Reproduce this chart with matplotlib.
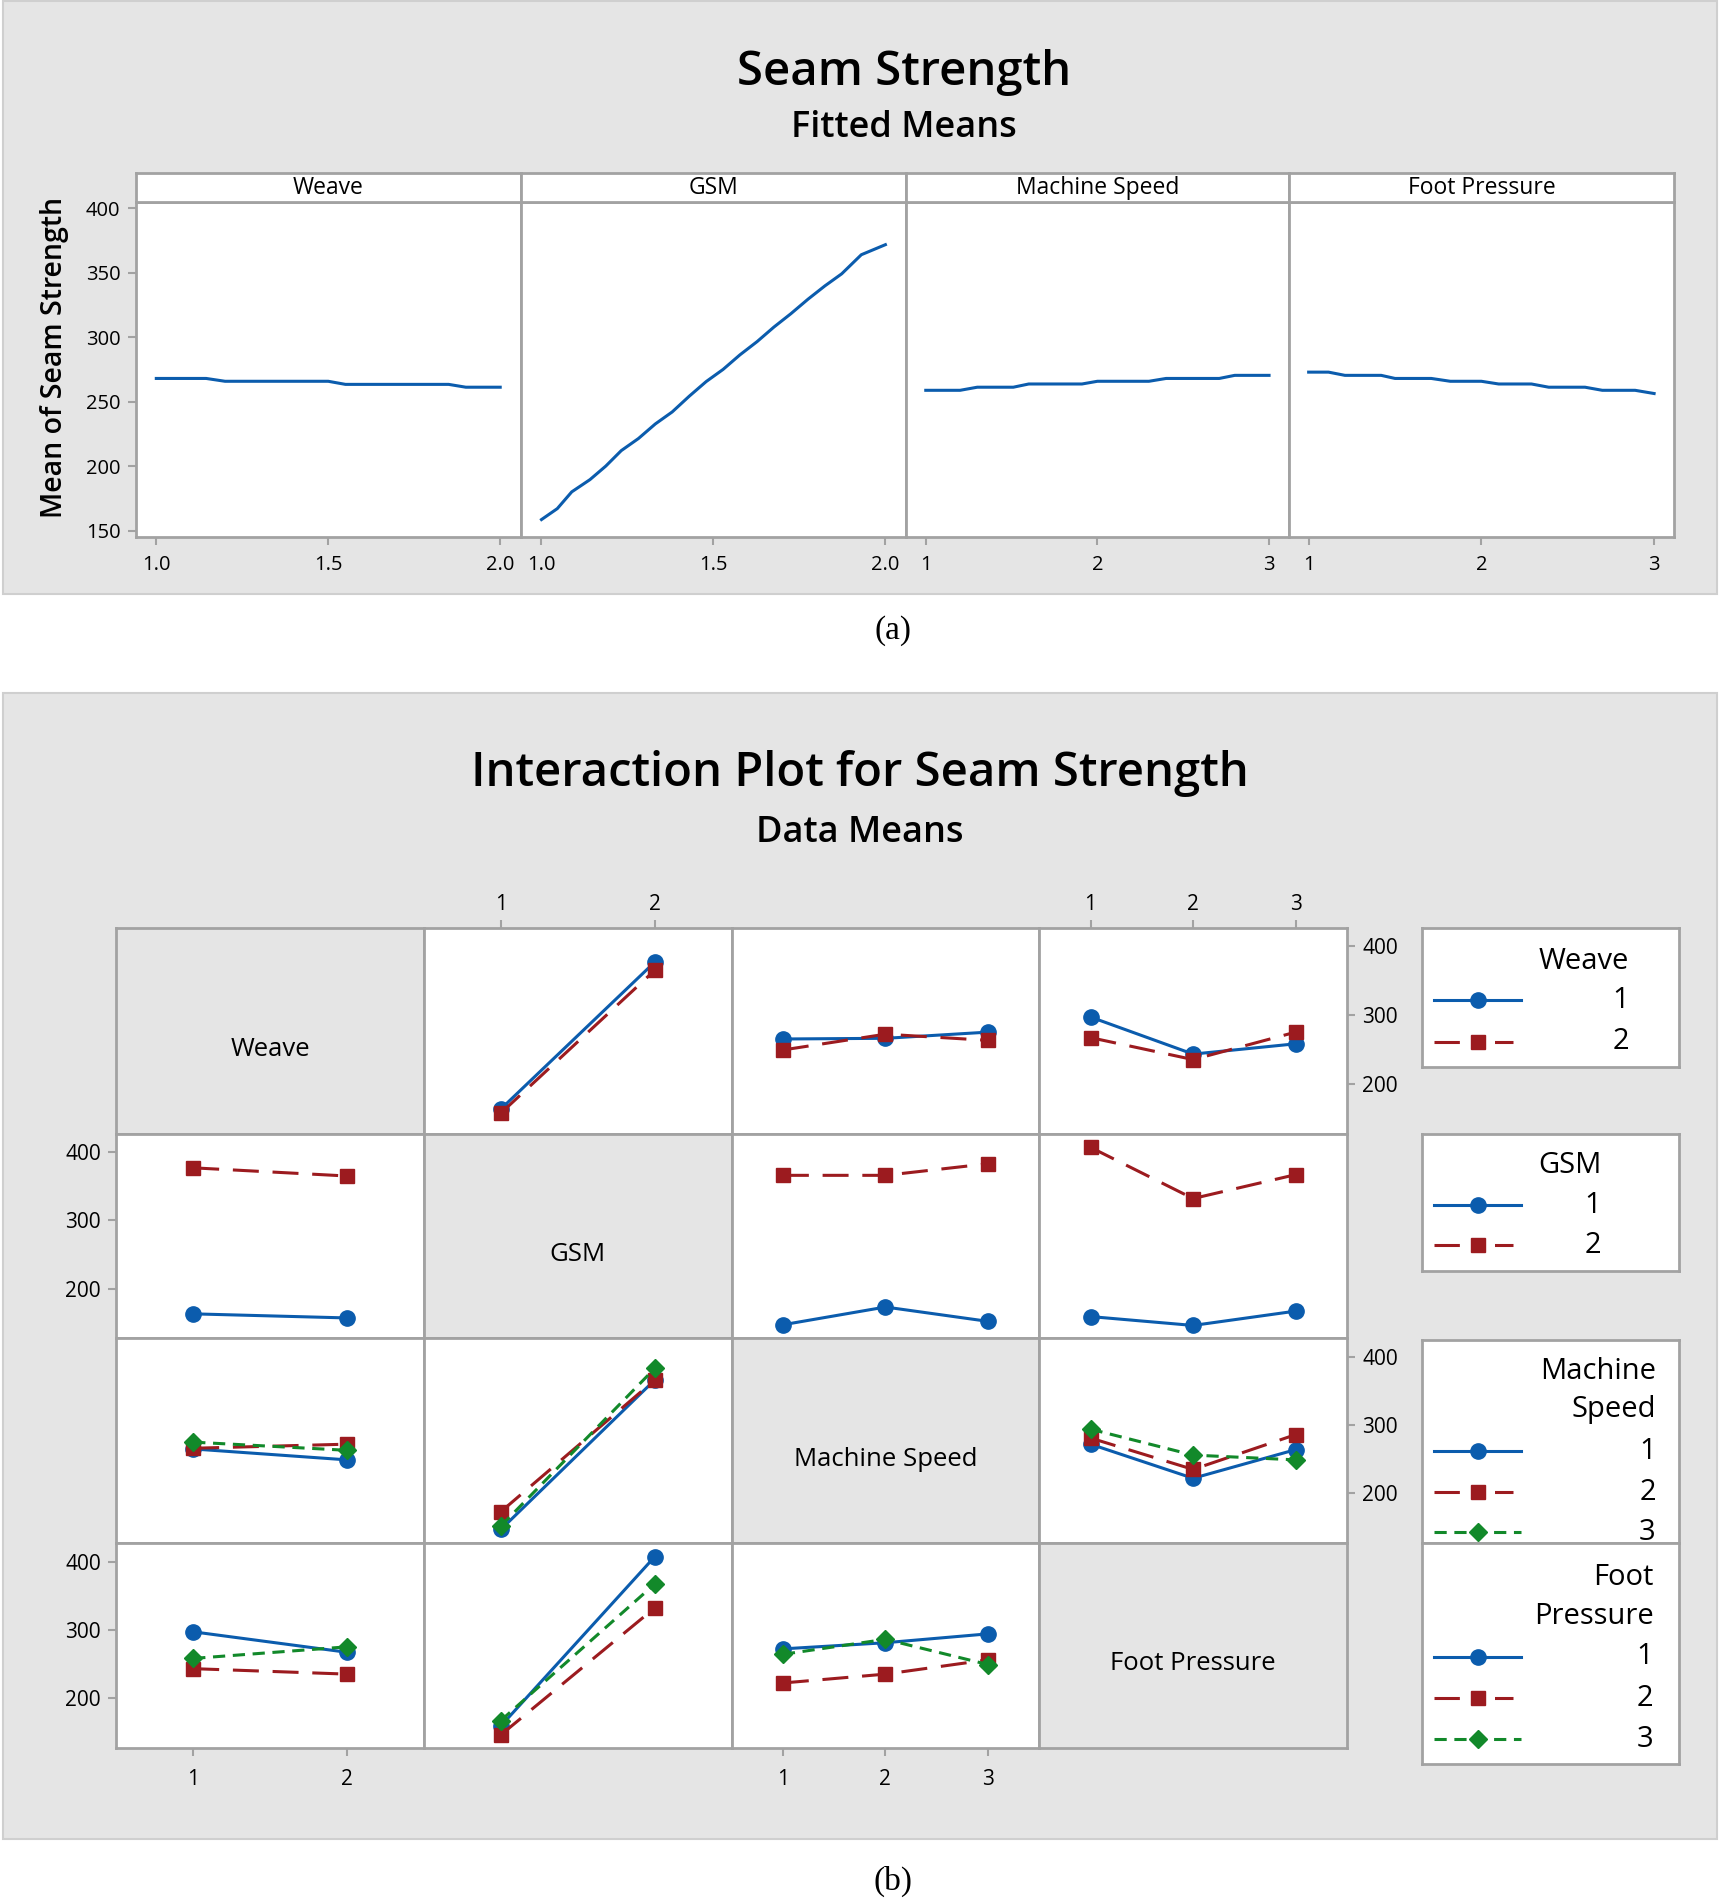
import matplotlib.pyplot as plt
from matplotlib.patches import Rectangle
import numpy as np

plt.rcParams['font.family'] = ['Open Sans', 'DejaVu Sans']

## Fitted means (panel a)
fit_weave_x = [1.0, 1.145, 1.20, 1.50, 1.55, 1.85, 1.90, 2.0]
fit_weave_y = [268.0, 268.0, 265.8, 265.8, 263.4, 263.4, 261.2, 261.2]

fit_gsm_x = [1.0, 1.046, 1.088, 1.141, 1.187, 1.232, 1.282, 1.331, 1.380, 1.430, 1.479,
             1.528, 1.577, 1.627, 1.676, 1.725, 1.775, 1.824, 1.873, 1.930, 2.0]
fit_gsm_y = [158.5, 167, 180, 189.5, 200, 212, 221.4, 232.7, 242, 254.3, 265.6,
             275, 286.3, 296.6, 307.9, 318.2, 329.5, 339.8, 349.2, 364, 371.8]

fit_speed_x = [1.0, 1.2, 1.3, 1.51, 1.6, 1.91, 2.0, 2.3, 2.4, 2.71, 2.8, 3.0]
fit_speed_y = [258.8, 258.8, 261.2, 261.2, 263.7, 263.7, 265.8, 265.8, 268.0, 268.0, 270.4, 270.4]

fit_pressure_x = [1.0, 1.115, 1.21, 1.42, 1.50, 1.71, 1.82, 2.0, 2.10, 2.29, 2.39, 2.60, 2.70, 2.89, 3.0]
fit_pressure_y = [272.9, 272.9, 270.4, 270.4, 268.0, 268.0, 265.8, 265.8, 263.7, 263.7,
                  261.2, 261.2, 258.8, 258.8, 256.3]

## Data means (panel b), rows = first factor level, cols = second factor level
factors = ['Weave', 'GSM', 'Machine Speed', 'Foot Pressure']
weave_levels = [1, 2]
gsm_levels = [1, 2]
speed_levels = [1, 2, 3]
pressure_levels = [1, 2, 3]

weave_gsm = [[163, 377], [157, 365]]
weave_speed = [[265, 266, 275], [249, 272, 263]]
weave_pressure = [[297, 243, 258], [267, 235, 275]]
gsm_speed = [[147, 173, 152], [366, 366, 383]]
gsm_pressure = [[159, 146, 167], [407, 332, 367]]
speed_pressure = [[272, 222, 264], [281, 235, 286], [294, 256, 249]]

levels = [weave_levels, gsm_levels, speed_levels, pressure_levels]
pair_means = {(0, 1): weave_gsm, (0, 2): weave_speed, (0, 3): weave_pressure,
              (1, 2): gsm_speed, (1, 3): gsm_pressure, (2, 3): speed_pressure}

BLUE = '#0b5cad'
RED = '#9c1b1f'
GREEN = '#12892a'
GRID = '#a2a2a2'
PANEL = '#e5e5e5'

styles = [dict(color=BLUE, ls='-', marker='o', ms=11),
          dict(color=RED, ls=(0, (8.5, 4.5)), marker='s', ms=10.5),
          dict(color=GREEN, ls=(0, (4, 2.5)), marker='D', ms=9.5)]
# dash patterns for the legend samples (dash - marker - dash look)
legend_ls = ['-', (0, (8.3, 11.5)), (0, (4, 2.5))]

W, H = 1420.0, 1567.0


def rect(x0, y0, x1, y1):
    return [x0 / W, 1 - y1 / H, (x1 - x0) / W, (y1 - y0) / H]


def gray_spines(ax):
    for s in ax.spines.values():
        s.set_color(GRID)
        s.set_linewidth(2)


def cell_means(trace, xfac):
    if (trace, xfac) in pair_means:
        return np.array(pair_means[(trace, xfac)], dtype=float)
    return np.array(pair_means[(xfac, trace)], dtype=float).T


fig = plt.figure(figsize=(17.2, 18.98), dpi=100)

# backgrounds
fig.patches.append(Rectangle((0.002, 1 - 490 / H), 0.996, 489 / H, transform=fig.transFigure,
                             facecolor=PANEL, edgecolor='#cfcfcf', lw=1.5, zorder=-10))
fig.patches.append(Rectangle((0.002, 1 - 1518 / H), 0.996, 946 / H, transform=fig.transFigure,
                             facecolor=PANEL, edgecolor='#cfcfcf', lw=1.5, zorder=-10))

## Panel (a)
fig.text(746 / W, 1 - 60 / H, 'Seam Strength', ha='center', va='center', fontsize=34, fontweight='semibold')
fig.text(746 / W, 1 - 106 / H, 'Fitted Means', ha='center', va='center', fontsize=26, fontweight='semibold')
fig.text(45 / W, 1 - 295 / H, 'Mean of Seam Strength', ha='center', va='center', rotation=90,
         fontsize=20.5, fontweight='semibold')

fit_x = [fit_weave_x, fit_gsm_x, fit_speed_x, fit_pressure_x]
fit_y = [fit_weave_y, fit_gsm_y, fit_speed_y, fit_pressure_y]
cols = [112, 430, 748, 1064, 1382]
for k in range(4):
    ax = fig.add_axes(rect(cols[k], 167, cols[k + 1], 443))
    ax.plot(fit_x[k], fit_y[k], color=BLUE, lw=2.2)
    ax.set_ylim(145.3, 404.7)
    if k < 2:
        ax.set_xlim(0.94, 2.06)
        ax.set_xticks([1.0, 1.5, 2.0])
        ax.set_xticklabels(['1.0', '1.5', '2.0'])
    else:
        ax.set_xlim(0.885, 3.115)
        ax.set_xticks([1, 2, 3])
    ax.set_yticks([150, 200, 250, 300, 350, 400])
    if k > 0:
        ax.tick_params(axis='y', left=False, labelleft=False)
    ax.tick_params(length=6, width=1.5, color=GRID, labelsize=14.5, pad=5)
    ax.tick_params(axis='x', pad=7)
    gray_spines(ax)

    strip = fig.add_axes(rect(cols[k], 143, cols[k + 1], 167))
    strip.set_xticks([])
    strip.set_yticks([])
    gray_spines(strip)
    strip.text(0.5, 0.5, factors[k], ha='center', va='center', fontsize=16.5, transform=strip.transAxes)

fig.text(737 / W, 1 - 521 / H, '(a)', ha='center', va='center', fontsize=24, family='Liberation Serif')
fig.text(737 / W, 1 - 1553 / H, '(b)', ha='center', va='center', fontsize=24, family='Liberation Serif')

## Panel (b)
fig.text(710 / W, 1 - 639 / H, 'Interaction Plot for Seam Strength', ha='center', va='center',
         fontsize=34, fontweight='semibold')
fig.text(710 / W, 1 - 688 / H, 'Data Means', ha='center', va='center', fontsize=26, fontweight='semibold')

gx = [96, 350, 604, 858, 1112]
gy = [766, 936, 1105, 1274, 1443]
for i in range(4):
    for j in range(4):
        ax = fig.add_axes(rect(gx[j], gy[i], gx[j + 1], gy[i + 1]))
        gray_spines(ax)
        ax.set_ylim(127, 427)
        ax.set_xlim(0.5, len(levels[j]) + 0.5)
        ax.set_xticks(levels[j])
        ax.set_yticks([200, 300, 400])
        ax.tick_params(length=6, width=1.5, color=GRID, labelsize=15, pad=5,
                       bottom=False, labelbottom=False, left=False, labelleft=False)
        if i == j:
            ax.set_facecolor(PANEL)
            ax.text(0.5, 0.41, factors[i], ha='center', va='center', fontsize=18.5, transform=ax.transAxes)
            continue
        means = cell_means(i, j)
        for t in range(len(levels[i])):
            ax.plot(levels[j], means[t], lw=2.2, clip_on=False, **styles[t])
        if i == 0 and j in (1, 3):
            ax.tick_params(axis='x', top=True, labeltop=True, pad=3)
        if i == 3 and j in (0, 2):
            ax.tick_params(axis='x', bottom=True, labelbottom=True, pad=9)
        if j == 3 and i in (0, 2):
            ax.tick_params(axis='y', right=True, labelright=True)
        if j == 0 and i in (1, 3):
            ax.tick_params(axis='y', left=True, labelleft=True)

## Legends
legend_specs = [
    (['Weave'], weave_levels, 766, 881, 1345, [794], [826, 860]),
    (['GSM'], gsm_levels, 936, 1049, 1322, [962], [995, 1028]),
    (['Machine', 'Speed'], speed_levels, 1106, 1274, 1367, [1132, 1164], [1198, 1232, 1265]),
    (['Foot', 'Pressure'], pressure_levels, 1274, 1456, 1365, [1302, 1335], [1368, 1402, 1436]),
]
sample_end = [1256, 1249, 1256]
for title_lines, levs, top, bottom, right, ty, ey in legend_specs:
    lax = fig.add_axes(rect(1174, top, 1386, bottom))
    lax.set_xlim(1174, 1386)
    lax.set_ylim(bottom, top)
    lax.set_xticks([])
    lax.set_yticks([])
    gray_spines(lax)
    for line, y in zip(title_lines, ty):
        lax.text(right, y, line, ha='right', va='center', fontsize=21, clip_on=True)
    for t, lev in enumerate(levs):
        st = styles[t]
        lax.plot([1184, sample_end[t]], [ey[t], ey[t]], color=st['color'], ls=legend_ls[t], lw=2.2)
        lax.plot([1220], [ey[t]], color=st['color'], marker=st['marker'], ms=st['ms'], ls='none')
        lax.text(right, ey[t], str(lev), ha='right', va='center', fontsize=21, clip_on=True)

fig.savefig('out.png', dpi=100)
